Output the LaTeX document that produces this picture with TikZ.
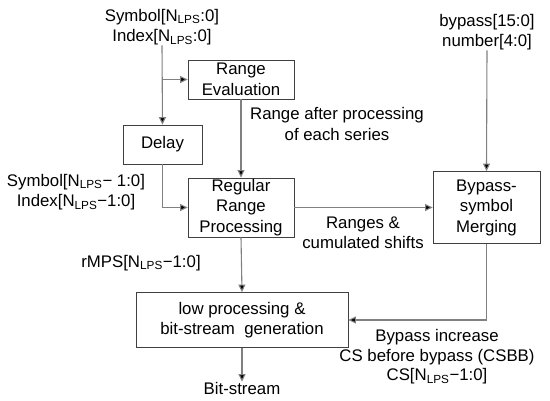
\documentclass[tikz,border=0pt]{standalone}
\usepackage{fontspec}
\setmainfont{Liberation Sans}
\usetikzlibrary{arrows.meta}
\begin{document}
\begin{tikzpicture}[x=1pt,y=-1pt,
  box/.style={draw=black!75,line width=0.8pt,fill=white,align=center,inner sep=0pt,font=\fontsize{16.8}{20.5}\selectfont},
  lbl/.style={align=center,inner sep=0pt,font=\fontsize{16.8}{20.5}\selectfont},
  conn/.style={draw=black!50,line width=1.1pt,-{Triangle[length=7.5pt,width=7pt,fill=black]}},
  line/.style={draw=black!50,line width=1.1pt}]
\useasboundingbox (0,0) rectangle (550,401);
\node[box,minimum width=106pt,minimum height=39pt] (re) at (241,79.5) {Range\\Evaluation};
\node[box,minimum width=79pt,minimum height=39pt] (delay) at (162.5,144.5) {Delay};
\node[box,minimum width=106pt,minimum height=59pt] (rrp) at (241,207.5) {Regular\\Range\\Processing};
\node[box,minimum width=107pt,minimum height=72pt] (bsm) at (486.5,207.5) {Bypass-\\symbol\\Merging};
\node[box,minimum width=212pt,minimum height=55pt] (lp) at (242,320) {low processing \&\\bit-stream\ \ generation};
\node[lbl] (in1) at (162,27) {Symbol[N\textsubscript{LPS}:0]\\Index[N\textsubscript{LPS}:0]};
\node[lbl] (in2) at (487,32) {bypass[15:0]\\number[4:0]};
\node[lbl] (rlab) at (337,124) {Range after processing\\of each series};
\node[lbl] (slab) at (363,233) {Ranges \&\\cumulated shifts};
\node[lbl] (dlab) at (76,192) {Symbol[N\textsubscript{LPS}− 1:0]\\Index[N\textsubscript{LPS}−1:0]};
\node[lbl] (mlab) at (141,263) {rMPS[N\textsubscript{LPS}−1:0]};
\node[lbl,font=\fontsize{16.8}{19.5}\selectfont] (blab) at (437,357) {Bypass increase\\CS before bypass (CSBB)\\CS[N\textsubscript{LPS}−1:0]};
\node[lbl] (bs) at (242,388) {Bit-stream};
\coordinate (br) at (162,79.5);
\draw[conn] (in1.south) -- (delay.north);
\draw[conn] (br) -- (re.west);
\draw[conn] (delay.south) |- (rrp.west);
\draw[conn] (re.south) -- (rrp.north);
\draw[conn] (rrp.east) -- (bsm.west);
\draw[conn] (in2.south) -- (bsm.north);
\draw[conn] (bsm.south) |- (lp.east);
\draw[conn] (rrp.south) -- (lp.north);
\draw[conn] (lp.south) -- (bs.north);
\end{tikzpicture}
\end{document}
